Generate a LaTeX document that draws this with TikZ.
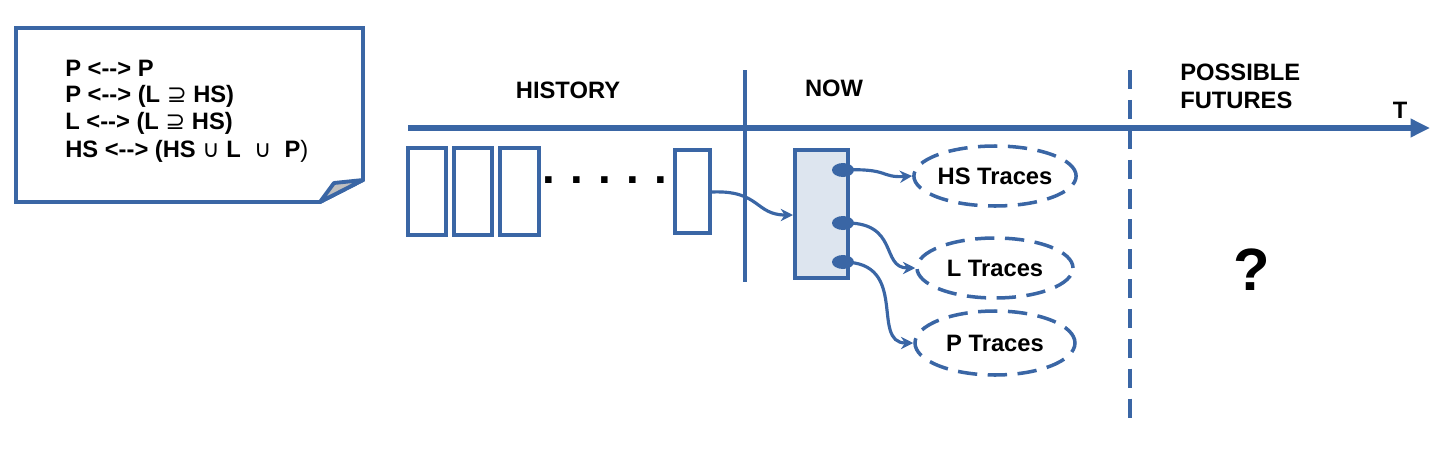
\documentclass[tikz,border=0pt]{standalone}
\usepackage{fontspec}
\setmainfont{Liberation Sans}
\newfontfamily\symf{DejaVu Sans}
\usetikzlibrary{arrows.meta,shapes.geometric}
\definecolor{bl}{HTML}{3A66A5}
\definecolor{fillb}{HTML}{DDE5EF}
\begin{document}
\begin{tikzpicture}[x=0.02cm,y=-0.02cm,
  lbl/.style={font=\fontsize{13.5}{16}\selectfont\bfseries,inner sep=0},
  box/.style={draw=bl,line width=2.2pt},
  dsh/.style={draw=bl,line width=2pt,dash pattern=on 11pt off 6pt},
  conn/.style={draw=bl,line width=1.8pt,-{Stealth[length=7pt,width=7pt]}},
  trace/.style={ellipse,dsh,inner sep=0,font=\fontsize{13.5}{16}\selectfont\bfseries}]
\useasboundingbox (0,0) rectangle (1441,450);
% note
\draw[box,fill=white] (16,28) -- (363,28) -- (363,180) -- (320,202) -- (16,202) -- cycle;
\draw[draw=bl,line width=2.2pt,fill=black!25,line join=round] (363,180) -- (334,183) -- (320,202) -- cycle;
\node[lbl,anchor=west] (n1) at (65,68) {P <{-}{-}> P};
\node[lbl,anchor=west] (n2) at (65,96) {P <{-}{-}> (L {\symf\mdseries ⊇} HS)};
\node[lbl,anchor=west] (n3) at (65,123) {L <{-}{-}> (L {\symf\mdseries ⊇} HS)};
\node[lbl,anchor=west] (n4) at (65,151) {HS <{-}{-}> (HS {\symf\mdseries ∪} L \ {\symf\mdseries ∪} \ P{\mdseries)}};
% timeline
\coordinate (t0) at (408,128); \coordinate (t1) at (1430,128);
\draw[draw=bl,line width=3pt,-{Triangle[length=11pt,width=10pt]}] (t0) -- (t1);
\coordinate (v0) at (745,70); \coordinate (v1) at (745,282);
\draw[draw=bl,line width=2pt] (v0) -- (v1);
\coordinate (d0) at (1130,70); \coordinate (d1) at (1130,428);
\draw[dsh] (d0) -- (d1);
\node[lbl] (hist) at (568,90) {HISTORY};
\node[lbl] (now) at (834,88) {NOW};
\node[lbl,align=left,anchor=west] (fut) at (1180,86) {POSSIBLE\\FUTURES};
\node[lbl] (T) at (1400,110) {T};
% history boxes
\draw[box] (408,148) rectangle (446,235);
\draw[box] (454,148) rectangle (492,235);
\draw[box] (500,148) rectangle (539,235);
\node[box,minimum width=39*0.02cm-2.2pt,minimum height=87*0.02cm-2.2pt,inner sep=0] (h4) at (692.5,191.5) {};
\node[font=\fontsize{26}{26}\selectfont\bfseries] (dots) at (605,180) {.\,\,.\,\,.\,\,.\,\,.};
% now box
\node[box,fill=fillb,minimum width=57*0.02cm-2.2pt,minimum height=132*0.02cm-2.2pt,inner sep=0] (nowb) at (821.5,214) {};
\foreach \n/\y in {a/170,b/223,c/262}
  \node[ellipse,fill=bl,minimum width=22*0.02cm,minimum height=14*0.02cm,inner sep=0] (\n) at (843,\y) {};
% traces
\node[trace,minimum width=156*0.02cm,minimum height=60*0.02cm] (hs) at (995,176) {HS Traces};
\node[trace,minimum width=156*0.02cm,minimum height=60*0.02cm] (l) at (995,268) {L Traces};
\node[trace,minimum width=160*0.02cm,minimum height=64*0.02cm] (p) at (995,343) {P Traces};
% connectors
\draw[conn] (h4.east |- 0,192) .. controls (760,190) and (755,215) .. (nowb.west |- 0,215);
\draw[conn] (a.center) .. controls (890,168) and (880,178) .. (hs.west);
\draw[conn] (b.center) .. controls (900,221) and (880,268) .. (l.west);
\draw[conn] (c.center) .. controls (910,262) and (870,343) .. (p.west);
\node[font=\fontsize{34}{34}\selectfont\bfseries] (q) at (1252,270) {?};
\end{tikzpicture}
\end{document}
